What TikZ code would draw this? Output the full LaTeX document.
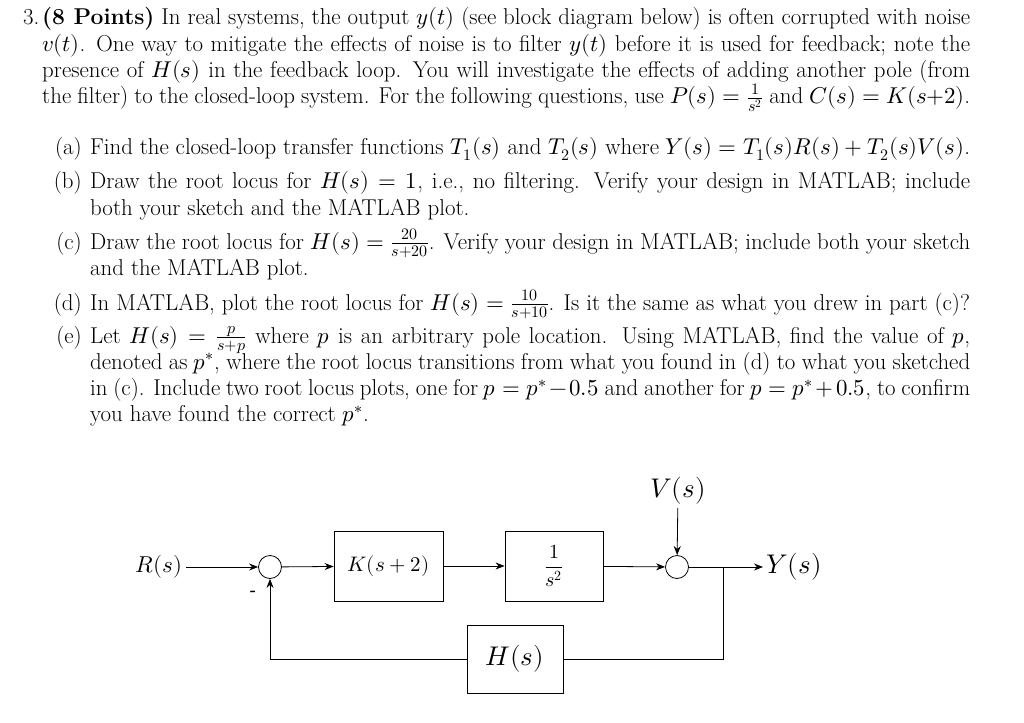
\documentclass[tikz,border=0pt]{standalone}
\usetikzlibrary{arrows.meta}
\usepackage{amsmath}
\usepackage{fontspec}
\usepackage{unicode-math}
\setmathfont{Latin Modern Math}
\newcommand{\mypar}[2]{\parbox[t]{#1}{\lineskiplimit=-30pt\baselineskip=26.3pt\fontsize{22.9}{26.3}\selectfont #2}}
\begin{document}
\begin{tikzpicture}[x=1pt,y=-1pt,
  par/.style={anchor=base west,inner sep=0pt,font=\fontsize{22.9}{26.3}\selectfont},
  lab/.style={anchor=base east,inner sep=0pt,font=\fontsize{22.9}{26.3}\selectfont},
  blk/.style={draw,line width=0.8pt,minimum width=#1,inner sep=0pt},
  sum/.style={draw,circle,line width=0.8pt,minimum size=23pt,inner sep=0pt},
  arr/.style={-{Stealth[length=9pt,width=7pt]},line width=0.8pt},
  ln/.style={line width=0.8pt}]
\useasboundingbox (0,0) rectangle (1024,722);
\node[par] (l1) at (23,25) {3.};
\node[par] (p1) at (42,25) {\mypar{928pt}{\textbf{(8 Points)} In real systems, the output $y(t)$ (see block diagram below) is often corrupted with noise $v(t)$. One way to mitigate the effects of noise is to filter $y(t)$ before it is used for feedback; note the presence of $H(s)$ in the feedback loop. You will investigate the effects of adding another pole (from the filter) to the closed-loop system. For the following questions, use $P(s)=\frac{1}{s^2}$ and $C(s)=K(s\!+\!2)$.}};
\node[lab] (la) at (82,155) {(a)};
\node[par] (pa) at (90,155) {\mypar{880pt}{Find the closed-loop transfer functions $T_1(s)$ and $T_2(s)$ where $Y(s)=T_1(s)R(s)+T_2(s)V(s)$.}};
\node[lab] (lb) at (82,189) {(b)};
\node[par] (pb) at (90,189) {\mypar{880pt}{Draw the root locus for $H(s)=1$, i.e., no filtering. Verify your design in MATLAB; include both your sketch and the MATLAB plot.}};
\node[lab] (lc) at (82,249) {(c)};
\node[par] (pc) at (90,249) {\mypar{880pt}{Draw the root locus for $H(s)=\frac{20}{s+20}$. Verify your design in MATLAB; include both your sketch and the MATLAB plot.}};
\node[lab] (ld) at (82,310) {(d)};
\node[par] (pd) at (90,310) {\mypar{880pt}{In MATLAB, plot the root locus for $H(s)=\frac{10}{s+10}$. Is it the same as what you drew in part (c)?}};
\node[lab] (le) at (82,343) {(e)};
\node[par] (pe) at (90,343) {\mypar{880pt}{Let $H(s)=\frac{p}{s+p}$ where $p$ is an arbitrary pole location. Using MATLAB, find the value of $p$, denoted as $p^*$, where the root locus transitions from what you found in (d) to what you sketched in (c). Include two root locus plots, one for $p=p^*-0.5$ and another for $p=p^*+0.5$, to confirm you have found the correct $p^*$.}};
% diagram
\node[font=\fontsize{23}{26}\selectfont] (R) at (159,567) {$R(s)$};
\node[sum] (s1) at (270,567) {};
\node[blk=109pt,minimum height=70pt,font=\fontsize{21}{24}\selectfont] (K) at (388.5,566) {$K(s+2)$};
\node[blk=98pt,minimum height=70pt,font=\fontsize{20}{24}\selectfont] (P) at (554,566) {$\dfrac{1}{s^2}$};
\node[sum] (s2) at (677,567) {};
\node[font=\fontsize{27}{30}\selectfont] (V) at (678,491) {$V(s)$};
\node[font=\fontsize{27}{30}\selectfont] (Y) at (794,567) {$Y(s)$};
\node[blk=96pt,minimum height=68pt,font=\fontsize{27}{30}\selectfont] (H) at (515,659) {$H(s)$};
\node[font=\bfseries\fontsize{16}{18}\selectfont] (minus) at (253,593) {-};
\coordinate (br) at (723,567);
\draw[arr] (R) -- (s1);
\draw[arr] (s1) -- (K);
\draw[arr] (K) -- (P);
\draw[arr] (P) -- (s2);
\draw[arr] (V) -- (s2);
\draw[arr] (s2) -- (Y);
\draw[ln] (br) |- (H);
\draw[arr] (H) -| (s1);
\end{tikzpicture}
\end{document}
